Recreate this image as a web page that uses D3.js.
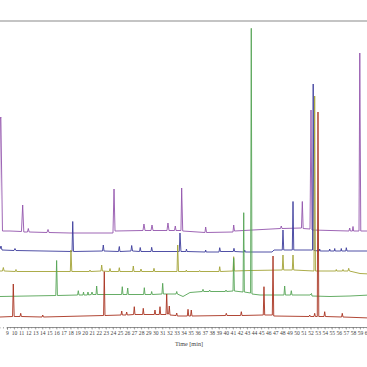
<!DOCTYPE html>
<html><head><meta charset="utf-8">
<script src="https://cdn.jsdelivr.net/npm/d3@7"></script>
<style>html,body{margin:0;padding:0;background:#fff;overflow:hidden}</style>
</head><body>
<script>
// Retention time (min) vs. detector signal (arbitrary units), five stacked chromatograms
const seriesNames = ["purple", "blue", "olive", "green", "red"];
const seriesColors = ["#9355ad", "#3c3c9c", "#a3a336", "#55a455", "#a8321f"];

const tracePurple = [[6.59,95],[7.90,96],[8.04,208],[8.13,210],[8.36,96],[9.42,96],[11.05,95.5],[11.22,122],[11.38,95],[11.90,95],[12.02,98.5],[12.14,95],[14.66,94.5],[14.81,97.5],[14.95,94.5],[17.92,94],[24.01,94],[24.16,138],[24.30,96],[28.26,96.5],[28.40,103],[28.55,96.5],[29.40,96.5],[29.54,102],[29.68,96.5],[31.66,96.5],[31.80,104],[31.95,96.5],[32.72,96.5],[32.84,101],[32.94,96.5],[33.64,96.5],[33.74,139],[33.89,96],[37.04,94.5],[37.14,100],[37.26,94.5],[41.01,95],[41.11,102],[41.22,96],[47.74,98.5],[47.85,101],[47.95,98.5],[50.71,99],[50.83,125.5],[50.95,98.5],[51.92,98],[52.06,217],[52.20,97],[57.44,96],[57.54,99],[57.64,96],[57.92,96],[58.01,100.5],[58.09,96],[58.86,96],[58.97,274],[59.11,96],[60.41,96]];

const traceBlue = [[6.59,78],[8.01,78],[8.15,81],[8.29,77],[9.99,76.5],[10.13,78.5],[10.27,76.5],[18.21,75.5],[18.31,105.5],[18.42,75.5],[22.53,76],[22.64,82],[22.74,76],[24.79,75.5],[24.91,80.5],[25.00,75.5],[26.56,76],[26.66,81.5],[26.78,76],[27.77,75.5],[27.87,79.5],[27.98,75.5],[29.40,75.5],[29.49,79.7],[29.61,75.5],[33.40,75.5],[33.50,94],[33.64,75.5],[34.35,75.5],[34.42,78],[34.49,75.5],[37.07,75],[37.14,77],[37.21,75],[39.03,75],[39.13,79.3],[39.24,75.5],[41.05,75.5],[41.15,78.7],[41.25,75.5],[42.60,75],[42.67,77],[42.74,75],[46.54,75],[46.82,77],[47.99,77],[48.09,97],[48.20,77],[49.41,77],[49.51,125.5],[49.62,77],[52.27,77],[52.37,243],[52.48,76.5],[53.22,76],[53.29,78],[53.36,76],[54.64,76],[54.71,78],[54.78,76],[55.35,76],[55.42,78.5],[55.49,76],[56.28,76],[56.35,78.5],[56.42,76],[56.99,76],[57.06,79.3],[57.16,76],[60.41,76]];

const traceOlive = [[6.59,56],[8.36,56],[8.48,59.5],[8.60,56],[10.18,55.5],[10.27,57.5],[10.37,55.5],[17.97,55.5],[18.06,77],[18.18,55.5],[20.66,55.5],[20.76,57],[20.85,55.5],[22.31,56],[22.41,62],[22.51,56],[23.49,55.5],[23.59,58.5],[23.69,55.5],[24.81,55.5],[24.91,59.3],[25.00,55.5],[26.79,55.5],[26.89,61],[26.99,55.5],[27.88,55.5],[27.98,58],[28.08,55.5],[29.72,55.5],[29.82,58.7],[29.92,55.5],[33.08,55.5],[33.18,82],[33.29,55.5],[34.33,55.5],[34.40,57],[34.47,55.5],[36.22,55.5],[36.29,56.5],[36.36,55.5],[39.03,55.5],[39.13,60.3],[39.23,55.5],[41.01,56],[41.11,70.3],[41.21,56],[43.42,56.5],[47.99,57],[48.09,72],[48.19,57],[49.41,57],[49.51,72],[49.61,57],[52.48,56],[52.58,231],[52.69,56],[55.57,56],[55.64,57.5],[55.71,56],[56.52,56],[56.59,57.5],[56.66,56],[57.30,56],[57.40,58.7],[57.50,56],[59.00,53.5],[60.41,53]];

const traceGreen = [[6.59,30],[8.01,30.5],[15.91,31.5],[16.03,66.5],[16.14,31.5],[19.00,32],[19.10,36.3],[19.20,32],[19.76,32],[19.84,35],[19.91,32],[20.37,32],[20.47,35],[20.57,32],[20.94,32.5],[21.04,35],[21.14,32.5],[21.61,32.5],[21.70,41],[21.80,32.5],[25.23,32.5],[25.33,40.3],[25.43,32.5],[25.99,32.5],[26.10,39],[26.19,32.5],[28.35,32.5],[28.45,39.3],[28.55,32.5],[29.40,32.5],[29.49,35.5],[29.59,32.5],[30.95,33],[31.05,43.7],[31.15,33],[32.94,33],[33.04,35.5],[33.13,33],[33.93,30.5],[34.92,34.5],[36.66,35.5],[36.76,37.7],[36.86,35.5],[37.61,35.5],[37.71,37],[37.81,35.5],[39.92,35.5],[40.02,37],[40.12,35.5],[41.01,36],[41.11,68.7],[41.21,36],[42.43,35],[42.53,114.3],[42.62,35],[43.50,34],[43.60,298.7],[43.70,33],[44.83,32],[48.23,32],[48.33,41],[48.43,32],[49.17,32],[49.27,36.3],[49.37,32],[51.92,32],[52.13,33.5],[52.20,31],[54.75,30.5],[57.58,31],[60.41,32]];

const traceRed = [[6.59,10],[8.01,10],[9.79,10.5],[9.89,43],[10.02,10.5],[10.84,10.5],[10.94,13.7],[11.04,10.5],[13.96,10],[14.06,12],[14.16,10],[22.68,11.5],[22.78,55.3],[22.88,11.5],[25.15,12],[25.25,16],[25.34,12],[25.85,12],[25.95,15],[26.05,12],[26.93,12.5],[27.03,20.3],[27.13,12.5],[28.21,12.5],[28.30,18.7],[28.40,12.5],[29.86,12.5],[29.96,17],[30.06,12.5],[30.57,12.5],[30.67,20.3],[30.77,12.5],[31.52,12.5],[31.62,33],[31.72,13],[31.89,13],[31.99,21],[32.09,12],[32.94,11.5],[33.04,14],[33.13,11],[34.54,11],[34.64,17.7],[34.74,11],[35.00,11],[35.10,17],[35.20,11],[39.96,11.5],[40.06,13.7],[40.16,11.5],[42.09,11.5],[42.19,15.3],[42.29,11.5],[45.30,12],[45.40,40.3],[45.50,12],[46.58,12],[46.68,71],[46.78,11],[51.78,10.5],[51.88,12],[51.97,10.5],[52.48,10.5],[52.58,13.7],[52.68,10.5],[52.95,10.5],[53.05,215],[53.16,10.5],[53.90,10.5],[54.00,15.3],[54.10,10.5],[56.39,10],[56.49,13.7],[56.59,10],[60.41,9]];

const traces = [tracePurple, traceBlue, traceOlive, traceGreen, traceRed];
const timeTicks = d3.range(9, 61, 1);
const minorTicks = d3.range(0, 60.01, 0.5);
const xTitle = "Time [min]";

const W = 367, H = 367;
const svg = d3.select("body").append("svg").attr("width", W).attr("height", H)
  .style("font-family", "'Liberation Serif', 'DejaVu Serif', serif");

const x = d3.scaleLinear().domain([9, 60]).range([7, 367.06]);
const y = d3.scaleLinear().domain([0, 306]).range([327, 21]);

// top frame line
svg.append("line").attr("x1", 0).attr("x2", W).attr("y1", y(306)).attr("y2", y(306))
  .attr("stroke", "#8a8a8a").attr("stroke-width", 1.2);

const line = d3.line().x(d => x(d[0])).y(d => y(d[1]));
traces.forEach((tr, i) => {
  svg.append("path").datum(tr).attr("d", line)
    .attr("fill", "none").attr("stroke", seriesColors[i])
    .attr("stroke-width", 0.9).attr("stroke-linejoin", "round");
});

// x axis
const axisG = svg.append("g").attr("transform", `translate(0,${y(0)})`);
axisG.selectAll("line.minor").data(minorTicks).join("line").attr("class", "minor")
  .attr("x1", d => x(d)).attr("x2", d => x(d)).attr("y1", 0).attr("y2", 1.5)
  .attr("stroke", "#777").attr("stroke-width", 0.6);
const ax = d3.axisBottom(x).tickValues(timeTicks).tickFormat(d3.format("d"))
  .tickSize(2.5).tickPadding(2);
axisG.call(ax);
axisG.select(".domain").attr("stroke", "#777").attr("stroke-width", 0.8);
axisG.selectAll(".tick line").attr("stroke", "#777").attr("stroke-width", 0.6);
axisG.selectAll(".tick text").attr("fill", "#444").style("font-size", "5.6px")
  .style("font-family", "'Liberation Serif', 'DejaVu Serif', serif");

svg.append("text").attr("x", 189).attr("y", 346).attr("text-anchor", "middle")
  .attr("fill", "#444").style("font-size", "6.2px").text(xTitle);
</script>
</body></html>
